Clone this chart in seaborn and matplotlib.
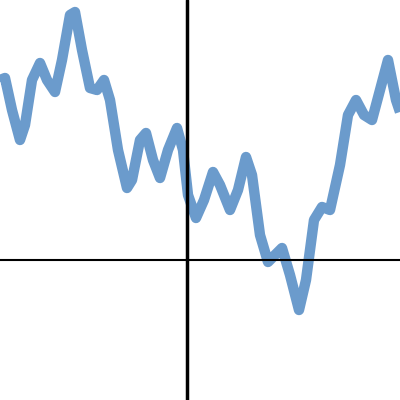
import numpy as np
import pandas as pd
import matplotlib
matplotlib.use("Agg")
import matplotlib.pyplot as plt
import seaborn as sns

# values (axis at x=0, y=0)
x_vals = [-4.675, -4.55, -4.375, -4.175, -4.05, -3.875, -3.675, -3.5, -3.3, -3.125,
          -2.925, -2.8, -2.625, -2.425, -2.25, -2.075, -1.925, -1.725, -1.5, -1.375,
          -1.175, -1.025, -0.85, -0.675, -0.475, -0.25, -0.1, 0.025, 0.225, 0.425,
          0.65, 0.825, 1.075, 1.275, 1.475, 1.625, 1.825, 2.025, 2.2, 2.375,
          2.575, 2.8, 2.975, 3.175, 3.375, 3.575, 3.825, 4.025, 4.225, 4.425,
          4.625, 4.825, 5.025, 5.225, 5.325]
y_vals = [4.5, 4.55, 3.75, 3.0, 3.375, 4.5, 4.925, 4.5, 4.2, 5.0,
          6.125, 6.2, 5.25, 4.3, 4.25, 4.5, 4.0, 2.75, 1.8, 2.0,
          3.0, 3.175, 2.5, 2.05, 2.75, 3.3, 2.75, 1.625, 1.05, 1.5,
          2.2, 1.875, 1.25, 1.75, 2.575, 2.125, 0.625, -0.05, 0.125, 0.3,
          -0.375, -1.25, -0.5, 1.0, 1.325, 1.25, 2.375, 3.625, 4.0, 3.625,
          3.5, 4.25, 5.0, 4.0, 3.7]

df = pd.DataFrame({"x": x_vals, "y": y_vals})

sns.set_style("white")
fig = plt.figure(figsize=(4, 4), dpi=100)
ax = fig.add_axes([0, 0, 1, 1])
sns.lineplot(data=df, x="x", y="y", ax=ax, color="#6b9bcc", linewidth=7.5,
             solid_joinstyle="round", solid_capstyle="butt", sort=False)
ax.axhline(0, color="black", linewidth=1.5)
ax.axvline(0, color="black", linewidth=2.5)
ax.set_xlim(-4.675, 5.325)
ax.set_ylim(-3.5, 6.5)
ax.set_axis_off()
fig.savefig("out.png", dpi=100)
